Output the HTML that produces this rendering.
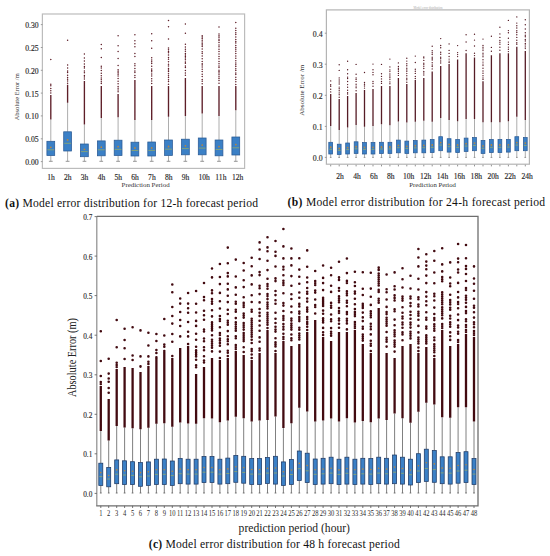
<!DOCTYPE html><html><head><meta charset="utf-8"><style>html,body{margin:0;padding:0;background:#fff;}svg{display:block;} text{font-family:"Liberation Serif",serif;}</style></head><body>
<svg width="550" height="556" viewBox="0 0 550 556">
<rect width="550" height="556" fill="#fff"/>
<path d="M50.8 155.5V161.3M50.8 141.3V119.5M67.6 151V161.3M67.6 131.8V102.7M84.4 156.7V161.3M84.4 144V124.5M101.3 155.8V161.3M101.3 140.9V118M118.1 155.5V161.3M118.1 140.2V117.3M134.9 156V161.3M134.9 142.2V120M151.7 156V161.3M151.7 142V120M168.5 155.4V161.3M168.5 140V116.8M185.4 154.8V161.3M185.4 139.2V116M202.2 154.8V161.3M202.2 138V113.5M219 155.8V161.3M219 140V116M235.8 155V161.3M235.8 137V110.3" stroke="#a4a4a4" stroke-width="0.9" fill="none"/>
<path d="M48.9 161.3H52.7M65.7 161.3H69.5M82.6 161.3H86.3M99.4 161.3H103.1M116.2 161.3H120M133 161.3H136.8M149.8 161.3H153.6M166.7 161.3H170.4M183.5 161.3H187.2M200.3 161.3H204.1M217.1 161.3H220.9M233.9 161.3H237.7" stroke="#8a8a8a" stroke-width="0.9" fill="none"/>
<path d="M50.8 119.5V95M67.6 102.7V84.7M84.4 124.5V81M101.3 118V86M118.1 117.3V94M134.9 120V80M151.7 120V86M168.5 116.8V86M185.4 116V78M202.2 113.5V86M219 116V86M235.8 110.3V86" stroke="#5e1e28" stroke-width="1.35" fill="none"/>
<path d="M50.8 92.9h0M50.8 90.7h0M50.8 88.4h0M50.8 85.8h0M50.8 84.3h0M50.8 59.4h0M67.6 83.2h0M67.6 80.9h0M67.6 79.2h0M67.6 77.4h0M67.6 75.3h0M67.6 72.6h0M67.6 70.9h0M67.6 68h0M67.6 65.1h0M67.6 40.3h0M84.4 78.9h0M84.4 77.1h0M84.4 75.6h0M84.4 72.7h0M84.4 70.9h0M84.4 67.9h0M84.4 66.4h0M84.4 63.9h0M84.4 61h0M84.4 58.1h0M84.4 54h0M101.3 83.6h0M101.3 81.7h0M101.3 79.8h0M101.3 77.9h0M101.3 75.7h0M101.3 73.2h0M101.3 70.5h0M101.3 67.9h0M101.3 66.2h0M101.3 44.5h0M101.3 48.8h0M101.3 57.4h0M118.1 91.8h0M118.1 89.9h0M118.1 88.3h0M118.1 86.6h0M118.1 83.8h0M118.1 81.3h0M118.1 78.6h0M118.1 75.9h0M118.1 74.3h0M118.1 72.8h0M118.1 71.3h0M118.1 69.8h0M118.1 35.8h0M118.1 45.7h0M118.1 51.6h0M118.1 58.6h0M118.1 65.5h0M134.9 77.5h0M134.9 75.4h0M134.9 72.5h0M134.9 71.1h0M134.9 68.6h0M134.9 65.7h0M134.9 63.7h0M134.9 34.8h0M134.9 40.7h0M134.9 43.7h0M134.9 46.7h0M134.9 53.6h0M134.9 56.6h0M151.7 83.4h0M151.7 81h0M151.7 78.7h0M151.7 76.1h0M151.7 74.1h0M151.7 71.7h0M151.7 70.4h0M151.7 68.9h0M151.7 66.2h0M151.7 63.4h0M151.7 61.8h0M151.7 59.9h0M151.7 57.7h0M151.7 48.2h0M151.7 40.7h0M151.7 33.8h0M168.5 84.3h0M168.5 81.4h0M168.5 79.8h0M168.5 77.6h0M168.5 75.7h0M168.5 73.8h0M168.5 71.5h0M168.5 70h0M168.5 68.6h0M168.5 66h0M168.5 64.2h0M168.5 61.8h0M168.5 59.2h0M168.5 57.5h0M168.5 55.1h0M168.5 52.7h0M168.5 51.4h0M168.5 49.8h0M168.5 47.9h0M168.5 39h0M168.5 26.8h0M168.5 20.5h0M185.4 75.3h0M185.4 73h0M185.4 70.4h0M185.4 67.6h0M185.4 65.9h0M185.4 63.3h0M185.4 62h0M185.4 59.8h0M185.4 58h0M185.4 56.6h0M185.4 54.9h0M185.4 53.5h0M185.4 51.3h0M185.4 49.3h0M185.4 47h0M185.4 44.3h0M185.4 33.3h0M185.4 23.9h0M202.2 83.7h0M202.2 81.3h0M202.2 79.5h0M202.2 76.6h0M202.2 74.3h0M202.2 71.5h0M202.2 69.2h0M202.2 67h0M202.2 65.1h0M202.2 63.7h0M202.2 61.6h0M202.2 58.8h0M202.2 55.9h0M202.2 53.6h0M202.2 51.7h0M202.2 49h0M202.2 46.5h0M202.2 45.1h0M202.2 43.7h0M202.2 42h0M202.2 40.3h0M202.2 38.4h0M202.2 36.9h0M202.2 35.8h0M219 83.2h0M219 80.6h0M219 78.5h0M219 76.8h0M219 74.7h0M219 73h0M219 71.6h0M219 70.3h0M219 67.6h0M219 66h0M219 63.8h0M219 61.5h0M219 58.7h0M219 56.6h0M219 54.1h0M219 51.6h0M219 49.3h0M219 46.8h0M219 44.9h0M219 42.4h0M219 40.6h0M219 39.3h0M219 37.3h0M219 35.8h0M219 34h0M219 26.9h0M235.8 84.6h0M235.8 81.8h0M235.8 79.4h0M235.8 77.2h0M235.8 74.4h0M235.8 72.9h0M235.8 70.5h0M235.8 68.8h0M235.8 66.4h0M235.8 64.7h0M235.8 63h0M235.8 60.7h0M235.8 58.2h0M235.8 56h0M235.8 53.5h0M235.8 51.2h0M235.8 49.2h0M235.8 47.5h0M235.8 45.4h0M235.8 43.1h0M235.8 41.5h0M235.8 39.6h0M235.8 36.9h0M235.8 34.6h0M235.8 32.8h0M235.8 30.6h0M235.8 28.2h0M235.8 22.5h0" stroke="#5e1e28" stroke-width="1.5" stroke-linecap="round" fill="none"/>
<g fill="#3b80c6" stroke="#2a5a94" stroke-width="0.75"><rect x="46.9" y="141.3" width="7.8" height="14.2"/><rect x="63.7" y="131.8" width="7.8" height="19.2"/><rect x="80.5" y="144" width="7.8" height="12.7"/><rect x="97.4" y="140.9" width="7.8" height="14.9"/><rect x="114.2" y="140.2" width="7.8" height="15.3"/><rect x="131" y="142.2" width="7.8" height="13.8"/><rect x="147.8" y="142" width="7.8" height="14"/><rect x="164.6" y="140" width="7.8" height="15.4"/><rect x="181.5" y="139.2" width="7.8" height="15.6"/><rect x="198.3" y="138" width="7.8" height="16.8"/><rect x="215.1" y="140" width="7.8" height="15.8"/><rect x="231.9" y="137" width="7.8" height="18"/></g>
<path d="M47.4 149.8H54.2M64.2 143.3H71M81 151.6H87.8M97.9 149.8H104.7M114.7 149.4H121.5M131.5 150.5H138.3M148.3 150.4H155.1M165.1 149.2H171.9M182 148.6H188.8M198.8 148.1H205.6M215.6 149.5H222.4M232.4 147.8H239.2" stroke="#b0b848" stroke-width="0.75" fill="none" opacity="0.8"/>
<path d="M50.8 147.3h0M67.6 139.9h0M84.4 149.3h0M101.3 147.2h0M118.1 146.6h0M134.9 148h0M151.7 147.9h0M168.5 146.5h0M185.4 145.8h0M202.2 145.1h0M219 146.6h0M235.8 144.6h0" stroke="#c8862c" stroke-width="1.8" stroke-linecap="round" fill="none" opacity="0.9"/>
<rect x="42.4" y="14" width="202.2" height="154.4" fill="none" stroke="#bcbcbc" stroke-width="1.2"/>
<g font-size="7.7" fill="#2a2a2a" stroke="#2a2a2a" stroke-width="0.15" text-anchor="end"><text x="38.6" y="165.1">0.00</text><text x="38.6" y="142.3">0.05</text><text x="38.6" y="119.4">0.10</text><text x="38.6" y="96.6">0.15</text><text x="38.6" y="73.8">0.20</text><text x="38.6" y="51">0.25</text><text x="38.6" y="28.1">0.30</text></g>
<path d="M40.8 161.6H42.4M40.8 138.8H42.4M40.8 115.9H42.4M40.8 93.1H42.4M40.8 70.3H42.4M40.8 47.5H42.4M40.8 24.6H42.4" stroke="#777" stroke-width="0.7"/>
<g font-size="7.6" fill="#2a2a2a" stroke="#2a2a2a" stroke-width="0.15" text-anchor="middle"><text x="51" y="179.6">1h</text><text x="67.8" y="179.6">2h</text><text x="84.6" y="179.6">3h</text><text x="101.5" y="179.6">4h</text><text x="118.3" y="179.6">5h</text><text x="135.1" y="179.6">6h</text><text x="151.9" y="179.6">7h</text><text x="168.7" y="179.6">8h</text><text x="185.6" y="179.6">9h</text><text x="204.1" y="179.6">10h</text><text x="220.9" y="179.6">11h</text><text x="237.7" y="179.6">12h</text></g>
<text x="145.6" y="187.3" font-size="6.9" fill="#333" text-anchor="middle">Prediction Period</text>
<text transform="translate(19.3 96.8) rotate(-90)" font-size="6.8" fill="#333" text-anchor="middle" textLength="47" lengthAdjust="spacingAndGlyphs">Absolute Error /m</text>
<path d="M330.7 154V157.4M330.7 142.3V125.9M339.2 154.5V157.4M339.2 144.2V130M347.6 154V157.4M347.6 143V127.5M356.1 153.5V157.4M356.1 141.8V125M364.5 154V157.4M364.5 142.5V126.7M373 154V157.4M373 142.5V125.9M381.5 153.5V157.4M381.5 142.3V124.3M389.9 153.5V157.4M389.9 142.3V125.3M398.4 152.8V157.4M398.4 140.1V121.4M406.8 153.5V157.4M406.8 141.1V122.6M415.3 152.8V157.4M415.3 140.6V121.7M423.8 152.8V157.4M423.8 140.1V120.8M432.2 152.6V157.4M432.2 139.5V121.7M440.7 150.7V157.4M440.7 136.7V118M449.1 152.1V157.4M449.1 138.7V120M457.6 152.6V157.4M457.6 139.5V121.2M466.1 151.5V157.4M466.1 138.1V119M474.5 150.7V157.4M474.5 137.6V119M483 153.5V157.4M483 140.4V122.2M491.4 152.6V157.4M491.4 139.5V122.2M499.9 152.6V157.4M499.9 139.5V122.2M508.4 152.1V157.4M508.4 139.5V121.2M516.8 150.7V157.4M516.8 136.7V116.8M525.3 150.7V157.4M525.3 137.6V120" stroke="#a4a4a4" stroke-width="0.9" fill="none"/>
<path d="M329.9 157.4H331.5M338.3 157.4H340M346.8 157.4H348.5M355.2 157.4H356.9M363.7 157.4H365.4M372.2 157.4H373.8M380.6 157.4H382.3M389.1 157.4H390.8M397.5 157.4H399.2M406 157.4H407.7M414.5 157.4H416.1M422.9 157.4H424.6M431.4 157.4H433.1M439.8 157.4H441.5M448.3 157.4H450M456.8 157.4H458.4M465.2 157.4H466.9M473.7 157.4H475.4M482.1 157.4H483.8M490.6 157.4H492.3M499.1 157.4H500.7M507.5 157.4H509.2M516 157.4H517.7M524.4 157.4H526.1" stroke="#8a8a8a" stroke-width="0.9" fill="none"/>
<path d="M330.7 125.9V94M339.2 130V99M347.6 127.5V96M356.1 125V93M364.5 126.7V90M373 125.9V89M381.5 124.3V86M389.9 125.3V86M398.4 121.4V78M406.8 122.6V84M415.3 121.7V80M423.8 120.8V78M432.2 121.7V71.4M440.7 118V66M449.1 120V64M457.6 121.2V59.6M466.1 119V53.2M474.5 119V57.5M483 122.2V81.2M491.4 122.2V55.3M499.9 122.2V53.2M508.4 121.2V53.2M516.8 116.8V46.7M525.3 120V51" stroke="#561c26" stroke-width="1.3" fill="none"/>
<path d="M330.7 91.9h0M330.7 89.3h0M330.7 86.3h0M330.7 84.7h0M330.7 80.9h0M339.2 97.2h0M339.2 94.7h0M339.2 92.9h0M339.2 90.7h0M339.2 88.7h0M339.2 87.1h0M339.2 84h0M339.2 82h0M339.2 80h0M339.2 77.9h0M339.2 70.4h0M339.2 64.7h0M347.6 94h0M347.6 92.6h0M347.6 90.2h0M347.6 87.3h0M347.6 84.6h0M347.6 81.5h0M347.6 78.5h0M347.6 77.1h0M347.6 73.7h0M347.6 69.8h0M347.6 61.2h0M356.1 90.8h0M356.1 87.8h0M356.1 86.1h0M356.1 84.3h0M356.1 81.4h0M356.1 79.4h0M356.1 77.9h0M356.1 74.3h0M356.1 64.4h0M364.5 88.1h0M364.5 86h0M364.5 84.2h0M364.5 82.5h0M364.5 72.5h0M373 86.2h0M373 83.5h0M373 81.5h0M373 74.8h0M373 72.4h0M373 69.8h0M373 64.1h0M381.5 83.4h0M381.5 81.5h0M381.5 78.9h0M381.5 76.4h0M381.5 73.8h0M381.5 64.4h0M389.9 83.7h0M389.9 81.9h0M389.9 79.6h0M389.9 77.8h0M389.9 76h0M389.9 74h0M389.9 71.6h0M389.9 69.9h0M389.9 66.9h0M389.9 59.1h0M398.4 75.4h0M398.4 73.4h0M398.4 71.2h0M398.4 69.6h0M398.4 68.2h0M398.4 66.4h0M398.4 62.9h0M406.8 82.2h0M406.8 79.7h0M406.8 78.2h0M406.8 75.8h0M406.8 73.6h0M406.8 71.6h0M406.8 70h0M406.8 68.3h0M406.8 65.8h0M406.8 63.8h0M406.8 61.1h0M406.8 58.2h0M415.3 78.5h0M415.3 76.4h0M415.3 73.4h0M415.3 71.2h0M415.3 69.2h0M415.3 62.5h0M415.3 56.1h0M423.8 75h0M423.8 73h0M423.8 71.4h0M423.8 68.5h0M423.8 66.6h0M423.8 64.8h0M423.8 63.2h0M423.8 60.4h0M423.8 57.9h0M423.8 57h0M432.2 68.9h0M432.2 66.5h0M432.2 65h0M432.2 62.7h0M432.2 60h0M432.2 58.7h0M432.2 57.3h0M432.2 54.5h0M432.2 52.8h0M432.2 50.7h0M432.2 46.2h0M440.7 63h0M440.7 61h0M440.7 58.8h0M440.7 57.2h0M440.7 54.3h0M440.7 52.3h0M440.7 47.8h0M440.7 45.5h0M440.7 38.6h0M449.1 62.5h0M449.1 61.1h0M449.1 59.1h0M449.1 56.5h0M449.1 53.4h0M449.1 50.4h0M449.1 43.9h0M457.6 56.6h0M457.6 54.6h0M457.6 52.6h0M457.6 45.6h0M466.1 50.5h0M466.1 42h0M466.1 34.8h0M474.5 55.6h0M474.5 53.2h0M474.5 46h0M474.5 40.1h0M474.5 34.2h0M483 79.4h0M483 77.9h0M483 75.8h0M483 73.3h0M483 71h0M483 68.3h0M483 65.6h0M483 64.1h0M483 62.1h0M483 59.7h0M483 56.7h0M483 54.9h0M483 53.2h0M483 50.6h0M483 48.9h0M483 47.2h0M483 45.4h0M483 39.1h0M491.4 51.2h0M491.4 47.4h0M491.4 36.3h0M499.9 50.2h0M499.9 47.3h0M499.9 44.3h0M499.9 42.2h0M499.9 40.4h0M499.9 37.4h0M499.9 33.9h0M499.9 27.3h0M508.4 51.6h0M508.4 49.2h0M508.4 47.1h0M508.4 44.4h0M508.4 42.1h0M508.4 38.2h0M508.4 32.8h0M508.4 30.6h0M508.4 20.4h0M516.8 44.3h0M516.8 42.7h0M516.8 40.3h0M516.8 37.4h0M516.8 34.8h0M516.8 32.5h0M516.8 30.8h0M516.8 28h0M516.8 25.7h0M516.8 23.1h0M516.8 16.9h0M525.3 48.6h0M525.3 46.9h0M525.3 44.9h0M525.3 43.4h0M525.3 41h0M525.3 39.5h0M525.3 36.8h0M525.3 35.3h0M525.3 32.8h0M525.3 29h0M525.3 24.8h0M525.3 19.7h0" stroke="#561c26" stroke-width="1.4" stroke-linecap="round" fill="none"/>
<g fill="#3b80c6" stroke="#2a5a94" stroke-width="0.75"><rect x="328.8" y="142.3" width="3.8" height="11.7"/><rect x="337.3" y="144.2" width="3.8" height="10.3"/><rect x="345.7" y="143" width="3.8" height="11"/><rect x="354.2" y="141.8" width="3.8" height="11.7"/><rect x="362.6" y="142.5" width="3.8" height="11.5"/><rect x="371.1" y="142.5" width="3.8" height="11.5"/><rect x="379.6" y="142.3" width="3.8" height="11.2"/><rect x="388" y="142.3" width="3.8" height="11.2"/><rect x="396.5" y="140.1" width="3.8" height="12.7"/><rect x="404.9" y="141.1" width="3.8" height="12.4"/><rect x="413.4" y="140.6" width="3.8" height="12.2"/><rect x="421.9" y="140.1" width="3.8" height="12.7"/><rect x="430.3" y="139.5" width="3.8" height="13.1"/><rect x="438.8" y="136.7" width="3.8" height="14"/><rect x="447.2" y="138.7" width="3.8" height="13.4"/><rect x="455.7" y="139.5" width="3.8" height="13.1"/><rect x="464.2" y="138.1" width="3.8" height="13.4"/><rect x="472.6" y="137.6" width="3.8" height="13.1"/><rect x="481.1" y="140.4" width="3.8" height="13.1"/><rect x="489.5" y="139.5" width="3.8" height="13.1"/><rect x="498" y="139.5" width="3.8" height="13.1"/><rect x="506.5" y="139.5" width="3.8" height="12.6"/><rect x="514.9" y="136.7" width="3.8" height="14"/><rect x="523.4" y="137.6" width="3.8" height="13.1"/></g>
<path d="M329.3 149.3H332.1M337.8 150.4H340.6M346.2 149.6H349M354.7 148.8H357.5M363.1 149.4H365.9M371.6 149.4H374.4M380.1 149H382.9M388.5 149H391.3M397 147.7H399.8M405.4 148.5H408.2M413.9 147.9H416.7M422.4 147.7H425.2M430.8 147.4H433.6M439.3 145.1H442.1M447.7 146.7H450.5M456.2 147.4H459M464.7 146.1H467.5M473.1 145.5H475.9M481.6 148.3H484.4M490 147.4H492.8M498.5 147.4H501.3M507 147.1H509.8M515.4 145.1H518.2M523.9 145.5H526.7" stroke="#b0b848" stroke-width="0.75" fill="none" opacity="0.8"/>
<path d="M330.7 147.2h0M339.2 148.5h0M347.6 147.6h0M356.1 146.7h0M364.5 147.3h0M373 147.3h0M381.5 147h0M389.9 147h0M398.4 145.4h0M406.8 146.3h0M415.3 145.7h0M423.8 145.4h0M432.2 145h0M440.7 142.6h0M449.1 144.3h0M457.6 145h0M466.1 143.7h0M474.5 143.1h0M483 145.9h0M491.4 145h0M499.9 145h0M508.4 144.8h0M516.8 142.6h0M525.3 143.1h0" stroke="#c8862c" stroke-width="1.8" stroke-linecap="round" fill="none" opacity="0.9"/>
<rect x="326.4" y="9.9" width="203" height="154.3" fill="none" stroke="#b4b4b4" stroke-width="1.2"/>
<g font-size="7.8" fill="#2a2a2a" stroke="#2a2a2a" stroke-width="0.15" text-anchor="end"><text x="322.6" y="161.1">0.0</text><text x="322.6" y="130.1">0.1</text><text x="322.6" y="99">0.2</text><text x="322.6" y="68">0.3</text><text x="322.6" y="36.9">0.4</text></g>
<path d="M324.8 157.4H326.4M324.8 126.4H326.4M324.8 95.3H326.4M324.8 64.2H326.4M324.8 33.2H326.4" stroke="#777" stroke-width="0.7"/>
<g font-size="7.6" fill="#2a2a2a" stroke="#2a2a2a" stroke-width="0.15" text-anchor="middle"><text x="340.1" y="178.6">2h</text><text x="357" y="178.6">4h</text><text x="373.9" y="178.6">6h</text><text x="390.8" y="178.6">8h</text><text x="408.6" y="178.6">10h</text><text x="425.6" y="178.6">12h</text><text x="442.5" y="178.6">14h</text><text x="459.4" y="178.6">16h</text><text x="476.3" y="178.6">18h</text><text x="493.2" y="178.6">20h</text><text x="510.2" y="178.6">22h</text><text x="527.1" y="178.6">24h</text></g>
<text x="432.6" y="187.2" font-size="6.7" fill="#333" text-anchor="middle">Prediction Period</text>
<text transform="translate(303.5 90.2) rotate(-90)" font-size="6.9" fill="#333" text-anchor="middle" textLength="51" lengthAdjust="spacingAndGlyphs">Absolute Error /m</text>
<text x="428" y="9.4" font-size="3" fill="#aaa" text-anchor="middle">Model error distribution</text>
<path d="M330.7 164.8V166.4M339.2 164.8V166.4M347.6 164.8V166.4M356.1 164.8V166.4M364.5 164.8V166.4M373 164.8V166.4M381.5 164.8V166.4M389.9 164.8V166.4M398.4 164.8V166.4M406.8 164.8V166.4M415.3 164.8V166.4M423.8 164.8V166.4M432.2 164.8V166.4M440.7 164.8V166.4M449.1 164.8V166.4M457.6 164.8V166.4M466.1 164.8V166.4M474.5 164.8V166.4M483 164.8V166.4M491.4 164.8V166.4M499.9 164.8V166.4M508.4 164.8V166.4M516.8 164.8V166.4M525.3 164.8V166.4" stroke="#666" stroke-width="0.7"/>
<path d="M100.8 485.5V493M100.8 463.2V431M108.7 486.8V493M108.7 467.4V440.5M116.7 483.7V493M116.7 459.9V425.9M124.6 484.5V493M124.6 460.8V427.4M132.6 484.6V493M132.6 461.7V428.3M140.5 486.3V493M140.5 462.6V429.2M148.4 485.4V493M148.4 461.9V427.7M156.4 484.5V493M156.4 459.2V423.7M164.3 484.5V493M164.3 459V423.2M172.3 485.4V493M172.3 461V426.8M180.2 483.7V493M180.2 458.6V422.6M188.1 484.1V493M188.1 459.2V423.5M196.1 484.1V493M196.1 459.2V423.7M204 482.6V493M204 456.5V418.3M212 482.6V493M212 456.5V418.6M219.9 484.1V493M219.9 459.2V422.3M227.8 483.7V493M227.8 458.1V420.5M235.8 482.3V493M235.8 455.5V416.8M243.7 483.2V493M243.7 456.3V418.3M251.7 484.5V493M251.7 458.6V421.4M259.6 484.5V493M259.6 458.6V420.5M267.5 483.5V493M267.5 457.4V419.9M275.5 484.1V493M275.5 456.3V416.5M283.4 485.4V493M283.4 461.9V428.1M291.4 484.5V493M291.4 459.5V423.2M299.3 480.5V493M299.3 451V407.7M307.2 482.6V493M307.2 453.2V411.4M315.2 484.5V493M315.2 459V421.4M323.1 484.1V493M323.1 458.3V420.5M331.1 483.7V493M331.1 457.2V418.6M339 484.6V493M339 459.2V421.4M346.9 484.1V493M346.9 457.2V418.3M354.9 484.5V493M354.9 459.2V422.6M362.8 484.1V493M362.8 458.3V421M370.8 484.5V493M370.8 458.6V422.3M378.7 483.7V493M378.7 457.2V418.6M386.6 484.1V493M386.6 458.3V420M394.6 483.7V493M394.6 455V413.6M402.5 484.1V493M402.5 457.2V418.2M410.5 485V493M410.5 459.2V422.7M418.4 482.6V493M418.4 453.7V411.8M426.3 481.4V493M426.3 449.2V402.7M434.3 482.3V493M434.3 450.5V404.5M442.2 483.7V493M442.2 456.8V417.3M450.2 484.1V493M450.2 456.8V417.8M458.1 483.2V493M458.1 452.6V407.3M466 482.6V493M466 451.7V407.3M474 484.5V493M474 458.6V421.5" stroke="#727272" stroke-width="0.9" fill="none"/>
<path d="M99.9 493H101.7M107.9 493H109.6M115.8 493H117.6M123.7 493H125.5M131.7 493H133.4M139.6 493H141.4M147.6 493H149.3M155.5 493H157.3M163.4 493H165.2M171.4 493H173.1M179.3 493H181.1M187.3 493H189M195.2 493H197M203.1 493H204.9M211.1 493H212.8M219 493H220.8M227 493H228.7M234.9 493H236.7M242.8 493H244.6M250.8 493H252.5M258.7 493H260.5M266.7 493H268.4M274.6 493H276.4M282.5 493H284.3M290.5 493H292.2M298.4 493H300.2M306.4 493H308.1M314.3 493H316.1M322.2 493H324M330.2 493H331.9M338.1 493H339.9M346.1 493H347.8M354 493H355.8M361.9 493H363.7M369.9 493H371.6M377.8 493H379.6M385.8 493H387.5M393.7 493H395.5M401.6 493H403.4M409.6 493H411.3M417.5 493H419.3M425.5 493H427.2M433.4 493H435.2M441.3 493H443.1M449.3 493H451M457.2 493H459M465.2 493H466.9M473.1 493H474.9" stroke="#666" stroke-width="0.9" fill="none"/>
<path d="M100.8 431V386M108.7 440.5V399M116.7 425.9V369M124.6 427.4V367M132.6 428.3V368M140.5 429.2V372M148.4 427.7V366M156.4 423.7V358M164.3 423.2V352M172.3 426.8V358M180.2 422.6V348M188.1 423.5V346M196.1 423.7V374M204 418.3V367M212 418.6V358M219.9 422.3V360M227.8 420.5V358M235.8 416.8V351M243.7 418.3V355M251.7 421.4V360M259.6 420.5V353M267.5 419.9V330M275.5 416.5V353M283.4 428.1V341M291.4 423.2V346M299.3 407.7V344M307.2 411.4V332M315.2 421.4V320M323.1 420.5V337M331.1 418.6V341M339 421.4V332M346.9 418.3V332M354.9 422.6V330M362.8 421V344M370.8 422.3V353M378.7 418.6V308M386.6 420V353M394.6 413.6V358M402.5 418.2V346M410.5 422.7V344M418.4 411.8V353M426.3 402.7V347M434.3 404.5V358M442.2 417.3V330M450.2 417.8V346M458.1 407.3V344M466 407.3V334M474 421.5V337" stroke="#420a10" stroke-width="2.3" fill="none"/>
<path d="M100.8 384h0M100.8 382h0M100.8 331.3h0M100.8 361h0M100.8 376h0M108.7 358.7h0M108.7 373.6h0M108.7 378.5h0M108.7 381.8h0M108.7 388h0M108.7 392.7h0M116.7 367h0M116.7 365h0M116.7 320h0M116.7 347.3h0M116.7 362.7h0M124.6 328.7h0M124.6 340h0M124.6 348.2h0M124.6 359h0M132.6 327.3h0M132.6 355.5h0M132.6 360h0M140.5 366.6h0M140.5 330.4h0M140.5 356.4h0M140.5 366.4h0M148.4 364h0M148.4 332.7h0M148.4 345.5h0M148.4 356.4h0M148.4 361.8h0M156.4 353h0M156.4 334h0M156.4 341h0M156.4 350h0M156.4 357.3h0M164.3 346.7h0M164.3 319h0M164.3 335.5h0M164.3 344.5h0M164.3 351h0M172.3 356h0M172.3 284.5h0M172.3 292.2h0M172.3 307h0M172.3 316h0M172.3 323.6h0M172.3 334h0M172.3 341.8h0M180.2 298.5h0M180.2 303.6h0M180.2 312h0M180.2 320h0M180.2 326h0M180.2 336.4h0M188.1 344h0M188.1 293h0M188.1 303.6h0M188.1 308.2h0M188.1 312.7h0M188.1 322h0M188.1 331.8h0M188.1 336.4h0M196.1 367.3h0M196.1 365.3h0M196.1 359.8h0M196.1 356.4h0M196.1 354.4h0M196.1 352.4h0M196.1 350.4h0M196.1 346.8h0M196.1 339.8h0M196.1 333.8h0M196.1 325.9h0M196.1 320.9h0M196.1 312.5h0M196.1 303.7h0M196.1 291h0M204 362.5h0M204 360.5h0M204 356.2h0M204 350.3h0M204 347.3h0M204 341.3h0M204 338.5h0M204 331.5h0M204 329.5h0M204 319.7h0M204 315.3h0M204 310.7h0M204 300.3h0M204 297.1h0M204 283h0M212 351.4h0M212 347.7h0M212 345.7h0M212 343.7h0M212 341.7h0M212 339.7h0M212 335.2h0M212 330.4h0M212 328.4h0M212 326.4h0M212 324.4h0M212 322.4h0M212 316.4h0M212 310.3h0M212 303.8h0M212 301.5h0M212 299.1h0M212 293.3h0M212 290.4h0M212 277.4h0M212 268.5h0M219.9 358h0M219.9 351.6h0M219.9 345.8h0M219.9 343.1h0M219.9 340.6h0M219.9 338.6h0M219.9 335h0M219.9 333h0M219.9 327.3h0M219.9 321h0M219.9 319h0M219.9 316h0M219.9 308.5h0M219.9 301.3h0M219.9 292.9h0M219.9 284.1h0M219.9 277h0M219.9 264h0M227.8 356h0M227.8 352.7h0M227.8 350.7h0M227.8 344.3h0M227.8 341.2h0M227.8 339.2h0M227.8 336.3h0M227.8 331.1h0M227.8 324.7h0M227.8 322.7h0M227.8 320.7h0M227.8 314h0M227.8 309.7h0M227.8 302.1h0M227.8 295.7h0M227.8 289.4h0M227.8 283.7h0M227.8 276.4h0M227.8 273.1h0M227.8 263.2h0M227.8 247.6h0M235.8 349h0M235.8 347h0M235.8 345h0M235.8 338.2h0M235.8 336.2h0M235.8 330.8h0M235.8 328.8h0M235.8 326.8h0M235.8 324.2h0M235.8 322.2h0M235.8 318.1h0M235.8 311.7h0M235.8 309.7h0M235.8 303.8h0M235.8 301.8h0M235.8 294.7h0M235.8 287.4h0M235.8 276.5h0M235.8 259.6h0M243.7 352h0M243.7 347.2h0M243.7 341.1h0M243.7 339.1h0M243.7 337.1h0M243.7 335.1h0M243.7 333.1h0M243.7 329.6h0M243.7 327h0M243.7 325h0M243.7 323h0M243.7 317.6h0M243.7 315.6h0M243.7 313.6h0M243.7 307h0M243.7 305h0M243.7 302.9h0M243.7 297.3h0M243.7 287.1h0M243.7 280.2h0M243.7 270.5h0M243.7 263h0M251.7 358h0M251.7 354.5h0M251.7 351.1h0M251.7 349.1h0M251.7 343h0M251.7 339.7h0M251.7 336.7h0M251.7 334.7h0M251.7 332.7h0M251.7 330.7h0M251.7 328.7h0M251.7 326.7h0M251.7 324.7h0M251.7 322.7h0M251.7 320.7h0M251.7 318.7h0M251.7 311.7h0M251.7 309.7h0M251.7 302h0M251.7 295.2h0M251.7 284.4h0M251.7 275.4h0M251.7 266.2h0M251.7 257.8h0M259.6 350.5h0M259.6 348.5h0M259.6 341.7h0M259.6 337.4h0M259.6 330.7h0M259.6 325.5h0M259.6 320.8h0M259.6 315.9h0M259.6 312.8h0M259.6 309h0M259.6 302.4h0M259.6 294.1h0M259.6 288.2h0M259.6 285.8h0M259.6 275.1h0M259.6 272.1h0M259.6 259h0M259.6 249.5h0M259.6 242.4h0M267.5 328h0M267.5 324.8h0M267.5 322.8h0M267.5 320.8h0M267.5 318.8h0M267.5 316.8h0M267.5 314.8h0M267.5 312.8h0M267.5 308.5h0M267.5 306.5h0M267.5 304.5h0M267.5 302.5h0M267.5 299.1h0M267.5 296.1h0M267.5 294.1h0M267.5 288.8h0M267.5 286h0M267.5 284h0M267.5 278.8h0M267.5 270.1h0M267.5 260.7h0M267.5 251.2h0M267.5 247.4h0M267.5 237.3h0M275.5 351h0M275.5 346.4h0M275.5 344.4h0M275.5 342.4h0M275.5 338.2h0M275.5 331.6h0M275.5 329.6h0M275.5 326.7h0M275.5 323h0M275.5 318.7h0M275.5 312.8h0M275.5 303.8h0M275.5 300.3h0M275.5 295.1h0M275.5 291h0M275.5 281.1h0M275.5 278.4h0M275.5 266.5h0M275.5 255.9h0M275.5 251.8h0M275.5 241h0M283.4 339h0M283.4 337h0M283.4 333.8h0M283.4 329.4h0M283.4 326.8h0M283.4 324h0M283.4 320h0M283.4 318h0M283.4 316h0M283.4 311h0M283.4 305.6h0M283.4 303.1h0M283.4 293.3h0M283.4 285h0M283.4 282.9h0M283.4 280.8h0M283.4 275.3h0M283.4 269.5h0M283.4 266.7h0M283.4 258.4h0M283.4 246.4h0M283.4 229h0M291.4 340.3h0M291.4 338.3h0M291.4 334.5h0M291.4 329.6h0M291.4 327.6h0M291.4 325.6h0M291.4 323.6h0M291.4 320.6h0M291.4 318.6h0M291.4 312.2h0M291.4 306.5h0M291.4 299h0M291.4 294.3h0M291.4 285.7h0M291.4 276.1h0M291.4 265.4h0M291.4 258.4h0M291.4 248.5h0M299.3 339.5h0M299.3 337.5h0M299.3 335.5h0M299.3 333.5h0M299.3 329.8h0M299.3 327.8h0M299.3 321.1h0M299.3 319.1h0M299.3 317.1h0M299.3 313.6h0M299.3 311.6h0M299.3 306.4h0M299.3 303.9h0M299.3 297.7h0M299.3 292.5h0M299.3 283.7h0M299.3 276.7h0M299.3 269.6h0M299.3 258.2h0M307.2 330h0M307.2 326.7h0M307.2 323.9h0M307.2 321.9h0M307.2 319h0M307.2 317h0M307.2 311.6h0M307.2 309.6h0M307.2 307.6h0M307.2 301.6h0M307.2 298.5h0M307.2 293.7h0M307.2 291.7h0M307.2 288h0M307.2 282.2h0M307.2 277.5h0M307.2 266.7h0M307.2 250.4h0M315.2 313.5h0M315.2 307h0M315.2 305h0M315.2 299.5h0M315.2 292.6h0M315.2 290.6h0M315.2 285h0M315.2 283h0M315.2 281h0M315.2 271h0M323.1 335h0M323.1 332.3h0M323.1 327.9h0M323.1 322.4h0M323.1 320.4h0M323.1 318.4h0M323.1 313.8h0M323.1 310.6h0M323.1 305.9h0M323.1 303.9h0M323.1 301.9h0M323.1 299.9h0M323.1 297.9h0M323.1 290.1h0M323.1 283.1h0M323.1 277.9h0M323.1 265.5h0M331.1 335.8h0M331.1 333.8h0M331.1 331.8h0M331.1 328.1h0M331.1 321.2h0M331.1 319.2h0M331.1 314.5h0M331.1 307.8h0M331.1 305.8h0M331.1 302.9h0M331.1 291.9h0M331.1 285.8h0M331.1 275.2h0M331.1 267.8h0M339 327.8h0M339 323.8h0M339 320.5h0M339 318.5h0M339 313h0M339 311h0M339 308.1h0M339 302.2h0M339 300.2h0M339 298.2h0M339 296.2h0M339 290.7h0M339 288h0M339 279.9h0M339 277.4h0M339 261.8h0M346.9 329.4h0M346.9 323.4h0M346.9 320.8h0M346.9 318.8h0M346.9 314.1h0M346.9 312.1h0M346.9 306.2h0M346.9 302.8h0M346.9 300.8h0M346.9 295.3h0M346.9 293.3h0M346.9 291.3h0M346.9 283h0M346.9 280.9h0M346.9 273.1h0M346.9 258.5h0M354.9 328h0M354.9 326h0M354.9 324h0M354.9 322h0M354.9 316.1h0M354.9 314.1h0M354.9 312.1h0M354.9 309.1h0M354.9 304.2h0M354.9 298.8h0M354.9 293.6h0M354.9 291.6h0M354.9 286h0M354.9 282.3h0M354.9 271.8h0M362.8 340.6h0M362.8 338.6h0M362.8 336.6h0M362.8 334.6h0M362.8 328.7h0M362.8 326.7h0M362.8 321.1h0M362.8 317.4h0M362.8 312.6h0M362.8 307.9h0M362.8 305.9h0M362.8 303.9h0M362.8 295h0M362.8 288.8h0M362.8 272.2h0M370.8 351h0M370.8 345.8h0M370.8 343.8h0M370.8 340.7h0M370.8 334.4h0M370.8 329.2h0M370.8 326.6h0M370.8 323.7h0M370.8 317.2h0M370.8 315.2h0M370.8 313.2h0M370.8 311.2h0M370.8 304.9h0M370.8 296.7h0M370.8 288.6h0M370.8 272.7h0M378.7 302.7h0M378.7 300.7h0M378.7 298.7h0M378.7 291.9h0M378.7 289.9h0M378.7 285.5h0M378.7 283.5h0M378.7 281.5h0M378.7 279.5h0M378.7 277.5h0M378.7 275.5h0M378.7 273.5h0M378.7 269.6h0M378.7 267.6h0M378.7 270h0M386.6 346.6h0M386.6 341.7h0M386.6 339.7h0M386.6 337.7h0M386.6 332h0M386.6 325.8h0M386.6 323.8h0M386.6 321.8h0M386.6 319.8h0M386.6 317.8h0M386.6 314.1h0M386.6 312.1h0M386.6 306.9h0M386.6 299.5h0M386.6 292.2h0M386.6 289.2h0M386.6 274.5h0M394.6 351.6h0M394.6 346.6h0M394.6 344.6h0M394.6 342.6h0M394.6 340.6h0M394.6 336.3h0M394.6 334.3h0M394.6 332.3h0M394.6 330.3h0M394.6 325.2h0M394.6 319.6h0M394.6 311.3h0M394.6 309.3h0M394.6 300.5h0M394.6 297.9h0M394.6 295.3h0M394.6 289.5h0M394.6 286.2h0M394.6 272.4h0M402.5 340.2h0M402.5 334.4h0M402.5 332.4h0M402.5 327.8h0M402.5 324.5h0M402.5 322.5h0M402.5 318.5h0M402.5 316.5h0M402.5 312.7h0M402.5 307.3h0M402.5 300.6h0M402.5 298.6h0M402.5 296.6h0M402.5 287.5h0M402.5 279.2h0M402.5 268.2h0M410.5 338.4h0M410.5 335.8h0M410.5 333.8h0M410.5 331.8h0M410.5 327.6h0M410.5 324.6h0M410.5 322.6h0M410.5 318.8h0M410.5 315h0M410.5 311.8h0M410.5 306.1h0M410.5 303.1h0M410.5 298.5h0M410.5 296.5h0M410.5 288.5h0M410.5 275.8h0M418.4 351h0M418.4 347.5h0M418.4 343.5h0M418.4 341.5h0M418.4 339.5h0M418.4 337.5h0M418.4 332.4h0M418.4 325.9h0M418.4 319.8h0M418.4 315.8h0M418.4 313.8h0M418.4 311.8h0M418.4 306.5h0M418.4 304.5h0M418.4 299.3h0M418.4 297.2h0M418.4 289.5h0M418.4 278.7h0M418.4 266.4h0M418.4 257.5h0M418.4 249h0M426.3 343.4h0M426.3 341.4h0M426.3 339.4h0M426.3 337.4h0M426.3 335.4h0M426.3 328.6h0M426.3 326.6h0M426.3 319.7h0M426.3 317.7h0M426.3 312.2h0M426.3 305.3h0M426.3 301.2h0M426.3 296.6h0M426.3 292.1h0M426.3 283.1h0M426.3 275.6h0M426.3 269.3h0M426.3 265.6h0M426.3 261.6h0M426.3 254.2h0M434.3 356h0M434.3 352.2h0M434.3 350.2h0M434.3 348.2h0M434.3 346.2h0M434.3 344.2h0M434.3 340.2h0M434.3 337.5h0M434.3 330.8h0M434.3 328.8h0M434.3 326.2h0M434.3 324.2h0M434.3 320.1h0M434.3 318.1h0M434.3 314h0M434.3 307.6h0M434.3 300.5h0M434.3 296.2h0M434.3 293.8h0M434.3 283.2h0M434.3 272.5h0M434.3 260.8h0M434.3 251h0M442.2 328h0M442.2 326h0M442.2 324h0M442.2 318.4h0M442.2 315.2h0M442.2 313.2h0M442.2 311.2h0M442.2 309.2h0M442.2 307.2h0M442.2 304.3h0M442.2 302.3h0M442.2 300.3h0M442.2 298.3h0M442.2 296.3h0M442.2 294.3h0M442.2 292.3h0M442.2 281.2h0M442.2 279.2h0M442.2 277h0M442.2 271.4h0M442.2 264.4h0M442.2 248.2h0M450.2 339.9h0M450.2 336.3h0M450.2 332.4h0M450.2 326.8h0M450.2 324.2h0M450.2 322.2h0M450.2 318.5h0M450.2 315.7h0M450.2 309.7h0M450.2 307.7h0M450.2 304.4h0M450.2 302h0M450.2 300h0M450.2 294.7h0M450.2 286.2h0M450.2 283.5h0M450.2 277.5h0M450.2 262.4h0M458.1 342h0M458.1 340h0M458.1 333.8h0M458.1 331.8h0M458.1 327.5h0M458.1 325.5h0M458.1 320.1h0M458.1 314.5h0M458.1 308.2h0M458.1 304h0M458.1 302h0M458.1 297.4h0M458.1 292h0M458.1 282.9h0M458.1 272.5h0M458.1 269.5h0M458.1 262.3h0M458.1 258.6h0M458.1 244h0M466 332h0M466 330h0M466 327h0M466 325h0M466 321.2h0M466 319.2h0M466 313.1h0M466 311.1h0M466 306.9h0M466 302.7h0M466 299.7h0M466 297.7h0M466 295.7h0M466 290h0M466 288h0M466 281h0M466 274h0M466 268.9h0M466 266h0M466 258.2h0M466 245h0M474 335h0M474 333h0M474 331h0M474 327.2h0M474 324.3h0M474 322.3h0M474 317.6h0M474 312.2h0M474 307.7h0M474 305.7h0M474 298.7h0M474 290.7h0M474 283.8h0M474 278.5h0M474 266.4h0" stroke="#420a10" stroke-width="2.6" stroke-linecap="round" fill="none"/>
<g fill="#3b80c6" stroke="#1d3864" stroke-width="0.75"><rect x="98.8" y="463.2" width="4" height="22.3"/><rect x="106.7" y="467.4" width="4" height="19.4"/><rect x="114.7" y="459.9" width="4" height="23.8"/><rect x="122.6" y="460.8" width="4" height="23.7"/><rect x="130.6" y="461.7" width="4" height="22.9"/><rect x="138.5" y="462.6" width="4" height="23.7"/><rect x="146.4" y="461.9" width="4" height="23.5"/><rect x="154.4" y="459.2" width="4" height="25.3"/><rect x="162.3" y="459" width="4" height="25.5"/><rect x="170.3" y="461" width="4" height="24.4"/><rect x="178.2" y="458.6" width="4" height="25.1"/><rect x="186.1" y="459.2" width="4" height="24.9"/><rect x="194.1" y="459.2" width="4" height="24.9"/><rect x="202" y="456.5" width="4" height="26.1"/><rect x="210" y="456.5" width="4" height="26.1"/><rect x="217.9" y="459.2" width="4" height="24.9"/><rect x="225.8" y="458.1" width="4" height="25.6"/><rect x="233.8" y="455.5" width="4" height="26.8"/><rect x="241.7" y="456.3" width="4" height="26.9"/><rect x="249.7" y="458.6" width="4" height="25.9"/><rect x="257.6" y="458.6" width="4" height="25.9"/><rect x="265.5" y="457.4" width="4" height="26.1"/><rect x="273.5" y="456.3" width="4" height="27.8"/><rect x="281.4" y="461.9" width="4" height="23.5"/><rect x="289.4" y="459.5" width="4" height="25"/><rect x="297.3" y="451" width="4" height="29.5"/><rect x="305.2" y="453.2" width="4" height="29.4"/><rect x="313.2" y="459" width="4" height="25.5"/><rect x="321.1" y="458.3" width="4" height="25.8"/><rect x="329.1" y="457.2" width="4" height="26.5"/><rect x="337" y="459.2" width="4" height="25.4"/><rect x="344.9" y="457.2" width="4" height="26.9"/><rect x="352.9" y="459.2" width="4" height="25.3"/><rect x="360.8" y="458.3" width="4" height="25.8"/><rect x="368.8" y="458.6" width="4" height="25.9"/><rect x="376.7" y="457.2" width="4" height="26.5"/><rect x="384.6" y="458.3" width="4" height="25.8"/><rect x="392.6" y="455" width="4" height="28.7"/><rect x="400.5" y="457.2" width="4" height="26.9"/><rect x="408.5" y="459.2" width="4" height="25.8"/><rect x="416.4" y="453.7" width="4" height="28.9"/><rect x="424.3" y="449.2" width="4" height="32.2"/><rect x="432.3" y="450.5" width="4" height="31.8"/><rect x="440.2" y="456.8" width="4" height="26.9"/><rect x="448.2" y="456.8" width="4" height="27.3"/><rect x="456.1" y="452.6" width="4" height="30.6"/><rect x="464" y="451.7" width="4" height="30.9"/><rect x="472" y="458.6" width="4" height="25.9"/></g>
<path d="M99.3 476.6H102.3M107.2 479H110.2M115.2 474.2H118.2M123.1 475H126.1M131.1 475.4H134.1M139 476.8H142M146.9 476H149.9M154.9 474.4H157.9M162.8 474.3H165.8M170.8 475.6H173.8M178.7 473.7H181.7M186.6 474.1H189.6M194.6 474.1H197.6M202.5 472.2H205.5M210.5 472.2H213.5M218.4 474.1H221.4M226.3 473.5H229.3M234.3 471.6H237.3M242.2 472.4H245.2M250.2 474.1H253.2M258.1 474.1H261.1M266 473.1H269M274 473H277M281.9 476H284.9M289.9 474.5H292.9M297.8 468.7H300.8M305.7 470.8H308.7M313.7 474.3H316.7M321.6 473.8H324.6M329.6 473.1H332.6M337.5 474.4H340.5M345.4 473.3H348.4M353.4 474.4H356.4M361.3 473.8H364.3M369.3 474.1H372.3M377.2 473.1H380.2M385.1 473.8H388.1M393.1 472.2H396.1M401 473.3H404M409 474.7H412M416.9 471H419.9M424.8 468.5H427.8M432.8 469.6H435.8M440.7 472.9H443.7M448.7 473.2H451.7M456.6 471H459.6M464.5 470.2H467.5M472.5 474.1H475.5" stroke="#b0b848" stroke-width="0.75" fill="none" opacity="0.8"/>
<path d="M100.8 472.6h0M108.7 475.5h0M116.7 469.9h0M124.6 470.8h0M132.6 471.3h0M140.5 472.6h0M148.4 471.8h0M156.4 469.8h0M164.3 469.7h0M172.3 471.2h0M180.2 469.1h0M188.1 469.7h0M196.1 469.7h0M204 467.5h0M212 467.5h0M219.9 469.7h0M227.8 468.9h0M235.8 466.8h0M243.7 467.6h0M251.7 469.5h0M259.6 469.5h0M267.5 468.4h0M275.5 468h0M283.4 471.8h0M291.4 470h0M299.3 463.4h0M307.2 465.5h0M315.2 469.7h0M323.1 469.1h0M331.1 468.3h0M339 469.9h0M346.9 468.5h0M354.9 469.8h0M362.8 469.1h0M370.8 469.5h0M378.7 468.3h0M386.6 469.1h0M394.6 467.1h0M402.5 468.5h0M410.5 470h0M418.4 465.8h0M426.3 462.7h0M434.3 463.9h0M442.2 468.1h0M450.2 468.3h0M458.1 465.5h0M466 464.7h0M474 469.5h0" stroke="#c8862c" stroke-width="1.6" stroke-linecap="round" fill="none" opacity="0.9"/>
<path d="M96.8 216.4V505.8" stroke="#8c8c8c" stroke-width="1.2" fill="none"/>
<path d="M96.8 216.4H478V505.8H96.2" stroke="#6e6e6e" stroke-width="1.3" fill="none" stroke-linejoin="miter"/>
<g font-size="7.3" fill="#2a2a2a" stroke="#2a2a2a" stroke-width="0.12" text-anchor="end"><text x="92.3" y="496.9">0.0</text><text x="92.3" y="457.3">0.1</text><text x="92.3" y="417.8">0.2</text><text x="92.3" y="378.2">0.3</text><text x="92.3" y="338.7">0.4</text><text x="92.3" y="299.1">0.5</text><text x="92.3" y="259.6">0.6</text><text x="92.3" y="220.1">0.7</text></g>
<path d="M94.6 493.4H96.8M94.6 453.8H96.8M94.6 414.3H96.8M94.6 374.8H96.8M94.6 335.2H96.8M94.6 295.6H96.8M94.6 256.1H96.8M94.6 216.6H96.8" stroke="#555" stroke-width="0.8"/>
<path d="M100.8 505.8V508M108.7 505.8V508M116.7 505.8V508M124.6 505.8V508M132.6 505.8V508M140.5 505.8V508M148.4 505.8V508M156.4 505.8V508M164.3 505.8V508M172.3 505.8V508M180.2 505.8V508M188.1 505.8V508M196.1 505.8V508M204 505.8V508M212 505.8V508M219.9 505.8V508M227.8 505.8V508M235.8 505.8V508M243.7 505.8V508M251.7 505.8V508M259.6 505.8V508M267.5 505.8V508M275.5 505.8V508M283.4 505.8V508M291.4 505.8V508M299.3 505.8V508M307.2 505.8V508M315.2 505.8V508M323.1 505.8V508M331.1 505.8V508M339 505.8V508M346.9 505.8V508M354.9 505.8V508M362.8 505.8V508M370.8 505.8V508M378.7 505.8V508M386.6 505.8V508M394.6 505.8V508M402.5 505.8V508M410.5 505.8V508M418.4 505.8V508M426.3 505.8V508M434.3 505.8V508M442.2 505.8V508M450.2 505.8V508M458.1 505.8V508M466 505.8V508M474 505.8V508" stroke="#555" stroke-width="0.8"/>
<g font-size="8.4" fill="#2a2a2a" text-anchor="middle"><text transform="translate(100.8 516.1) scale(0.78 1)">1</text><text transform="translate(108.7 516.1) scale(0.78 1)">2</text><text transform="translate(116.7 516.1) scale(0.78 1)">3</text><text transform="translate(124.6 516.1) scale(0.78 1)">4</text><text transform="translate(132.6 516.1) scale(0.78 1)">5</text><text transform="translate(140.5 516.1) scale(0.78 1)">6</text><text transform="translate(148.4 516.1) scale(0.78 1)">7</text><text transform="translate(156.4 516.1) scale(0.78 1)">8</text><text transform="translate(164.3 516.1) scale(0.78 1)">9</text><text transform="translate(172.3 516.1) scale(0.78 1)">10</text><text transform="translate(180.2 516.1) scale(0.78 1)">11</text><text transform="translate(188.1 516.1) scale(0.78 1)">12</text><text transform="translate(196.1 516.1) scale(0.78 1)">13</text><text transform="translate(204 516.1) scale(0.78 1)">14</text><text transform="translate(212 516.1) scale(0.78 1)">15</text><text transform="translate(219.9 516.1) scale(0.78 1)">16</text><text transform="translate(227.8 516.1) scale(0.78 1)">17</text><text transform="translate(235.8 516.1) scale(0.78 1)">18</text><text transform="translate(243.7 516.1) scale(0.78 1)">19</text><text transform="translate(251.7 516.1) scale(0.78 1)">20</text><text transform="translate(259.6 516.1) scale(0.78 1)">21</text><text transform="translate(267.5 516.1) scale(0.78 1)">22</text><text transform="translate(275.5 516.1) scale(0.78 1)">23</text><text transform="translate(283.4 516.1) scale(0.78 1)">24</text><text transform="translate(291.4 516.1) scale(0.78 1)">25</text><text transform="translate(299.3 516.1) scale(0.78 1)">26</text><text transform="translate(307.2 516.1) scale(0.78 1)">27</text><text transform="translate(315.2 516.1) scale(0.78 1)">28</text><text transform="translate(323.1 516.1) scale(0.78 1)">29</text><text transform="translate(331.1 516.1) scale(0.78 1)">30</text><text transform="translate(339 516.1) scale(0.78 1)">31</text><text transform="translate(346.9 516.1) scale(0.78 1)">32</text><text transform="translate(354.9 516.1) scale(0.78 1)">33</text><text transform="translate(362.8 516.1) scale(0.78 1)">34</text><text transform="translate(370.8 516.1) scale(0.78 1)">35</text><text transform="translate(378.7 516.1) scale(0.78 1)">36</text><text transform="translate(386.6 516.1) scale(0.78 1)">37</text><text transform="translate(394.6 516.1) scale(0.78 1)">38</text><text transform="translate(402.5 516.1) scale(0.78 1)">39</text><text transform="translate(410.5 516.1) scale(0.78 1)">40</text><text transform="translate(418.4 516.1) scale(0.78 1)">41</text><text transform="translate(426.3 516.1) scale(0.78 1)">42</text><text transform="translate(434.3 516.1) scale(0.78 1)">43</text><text transform="translate(442.2 516.1) scale(0.78 1)">44</text><text transform="translate(450.2 516.1) scale(0.78 1)">45</text><text transform="translate(458.1 516.1) scale(0.78 1)">46</text><text transform="translate(466 516.1) scale(0.78 1)">47</text><text transform="translate(474 516.1) scale(0.78 1)">48</text></g>
<text x="294.3" y="531.6" font-size="11.6" fill="#222" text-anchor="middle">prediction period (hour)</text>
<text transform="translate(75.7 357.5) rotate(-90)" font-size="11.5" fill="#222" text-anchor="middle" textLength="79" lengthAdjust="spacingAndGlyphs">Absolute Error (m)</text>
<text x="5.1" y="206.5" font-size="11.6" fill="#111" textLength="253" lengthAdjust="spacing"><tspan font-weight="bold">(a)</tspan> Model error distribution for 12-h forecast period</text>
<text x="287.6" y="206.2" font-size="11.6" fill="#111" textLength="257.5" lengthAdjust="spacing"><tspan font-weight="bold">(b)</tspan> Model error distribution for 24-h forecast period</text>
<text x="148.8" y="547.7" font-size="11.6" fill="#111" textLength="251" lengthAdjust="spacing"><tspan font-weight="bold">(c)</tspan> Model error distribution for 48 h forecast period</text>
</svg></body></html>
